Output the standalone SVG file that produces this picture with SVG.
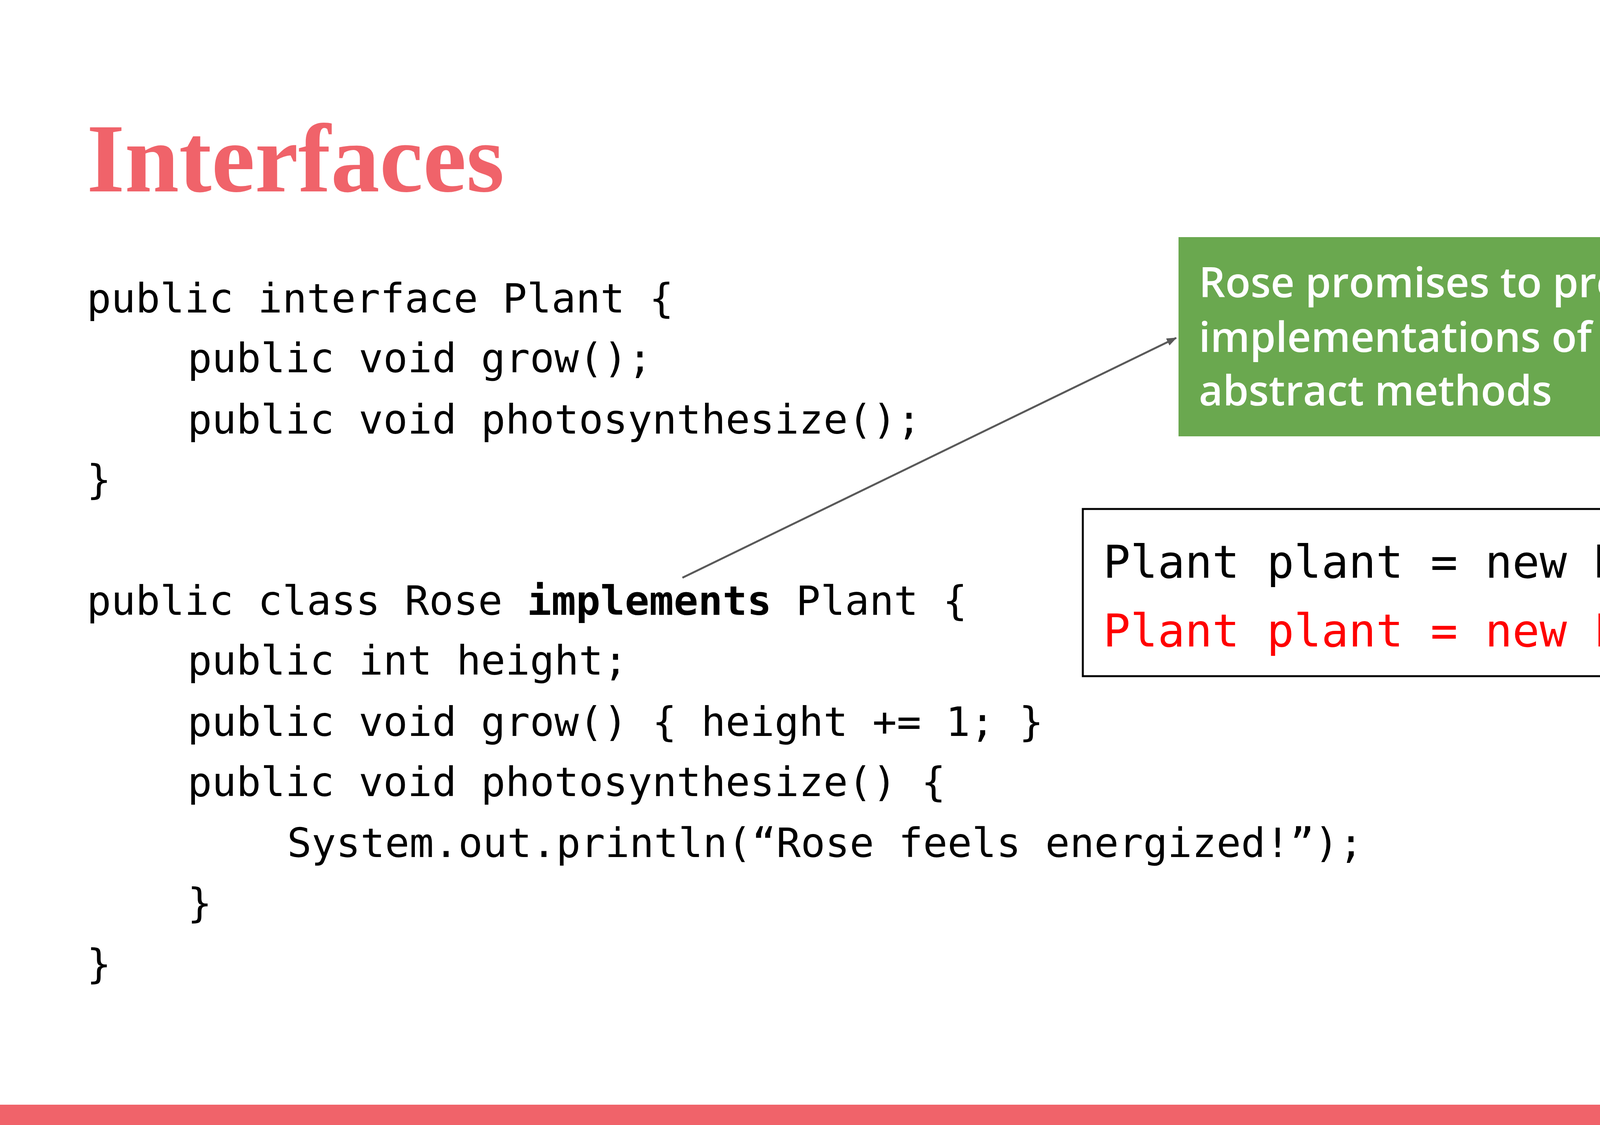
<svg xmlns="http://www.w3.org/2000/svg" width="5120" height="2880" viewBox="0 0 5120 2880">
<style>
.code{font-family:"DejaVu Sans Mono","Liberation Mono",monospace;font-size:104px;fill:#000;white-space:pre}
.box{font-family:"DejaVu Sans Mono","Liberation Mono",monospace;font-size:116px;white-space:pre}
.note{font-family:"Open Sans","Lato",sans-serif;font-weight:600;font-size:106px;fill:#fff}
</style>
<defs><marker id="ah" markerWidth="26" markerHeight="20" refX="24" refY="10" orient="auto" markerUnits="userSpaceOnUse"><path d="M0,0 L26,10 L0,20 z" fill="#595959"/></marker></defs>
<rect width="5120" height="2880" fill="#fff"/>
<text x="222" y="490" font-family="Liberation Serif,serif" font-weight="bold" font-size="250" fill="#f0636a">Interfaces</text>
<g id="code">
<text class="code" x="222" y="800">public interface Plant {</text>
<text class="code" x="480" y="953">public void grow();</text>
<text class="code" x="480" y="1110">public void photosynthesize();</text>
<text class="code" x="222" y="1264">}</text>
<text class="code" x="222" y="1574">public class Rose <tspan font-weight="bold">implements</tspan> Plant {</text>
<text class="code" x="480" y="1727">public int height;</text>
<text class="code" x="480" y="1884">public void grow() { height += 1; }</text>
<text class="code" x="480" y="2038">public void photosynthesize() {</text>
<text class="code" x="735" y="2194">System.out.println(“Rose feels energized!”);</text>
<text class="code" x="480" y="2348">}</text>
<text class="code" x="222" y="2504">}</text>
</g>
<g id="note">
<rect x="3017" y="607" width="1754" height="510" fill="#6aa84f"/>
<text class="note" x="3069" y="761">Rose promises to provide</text>
<text class="note" x="3069" y="901">implementations of all of Plant’s</text>
<text class="note" x="3069" y="1038">abstract methods</text>
</g>
<g id="usage">
<rect x="2772" y="1303" width="2250" height="428" fill="#fff" stroke="#000" stroke-width="5"/>
<text class="box" x="2824" y="1479" fill="#000">Plant plant = new Rose();</text>
<text class="box" x="2824" y="1655" fill="#f00">Plant plant = new Plant();</text>
<g stroke="#f00" stroke-width="44"><line x1="4700" y1="1553" x2="4838" y2="1680"/><line x1="4838" y1="1553" x2="4700" y2="1680"/></g>
</g>
<g id="connectors">
<line x1="1747" y1="1479" x2="3011" y2="865" stroke="#595959" stroke-width="5" marker-end="url(#ah)"/>
</g>
<rect x="0" y="2828" width="5120" height="52" fill="#f0636a"/>
</svg>
